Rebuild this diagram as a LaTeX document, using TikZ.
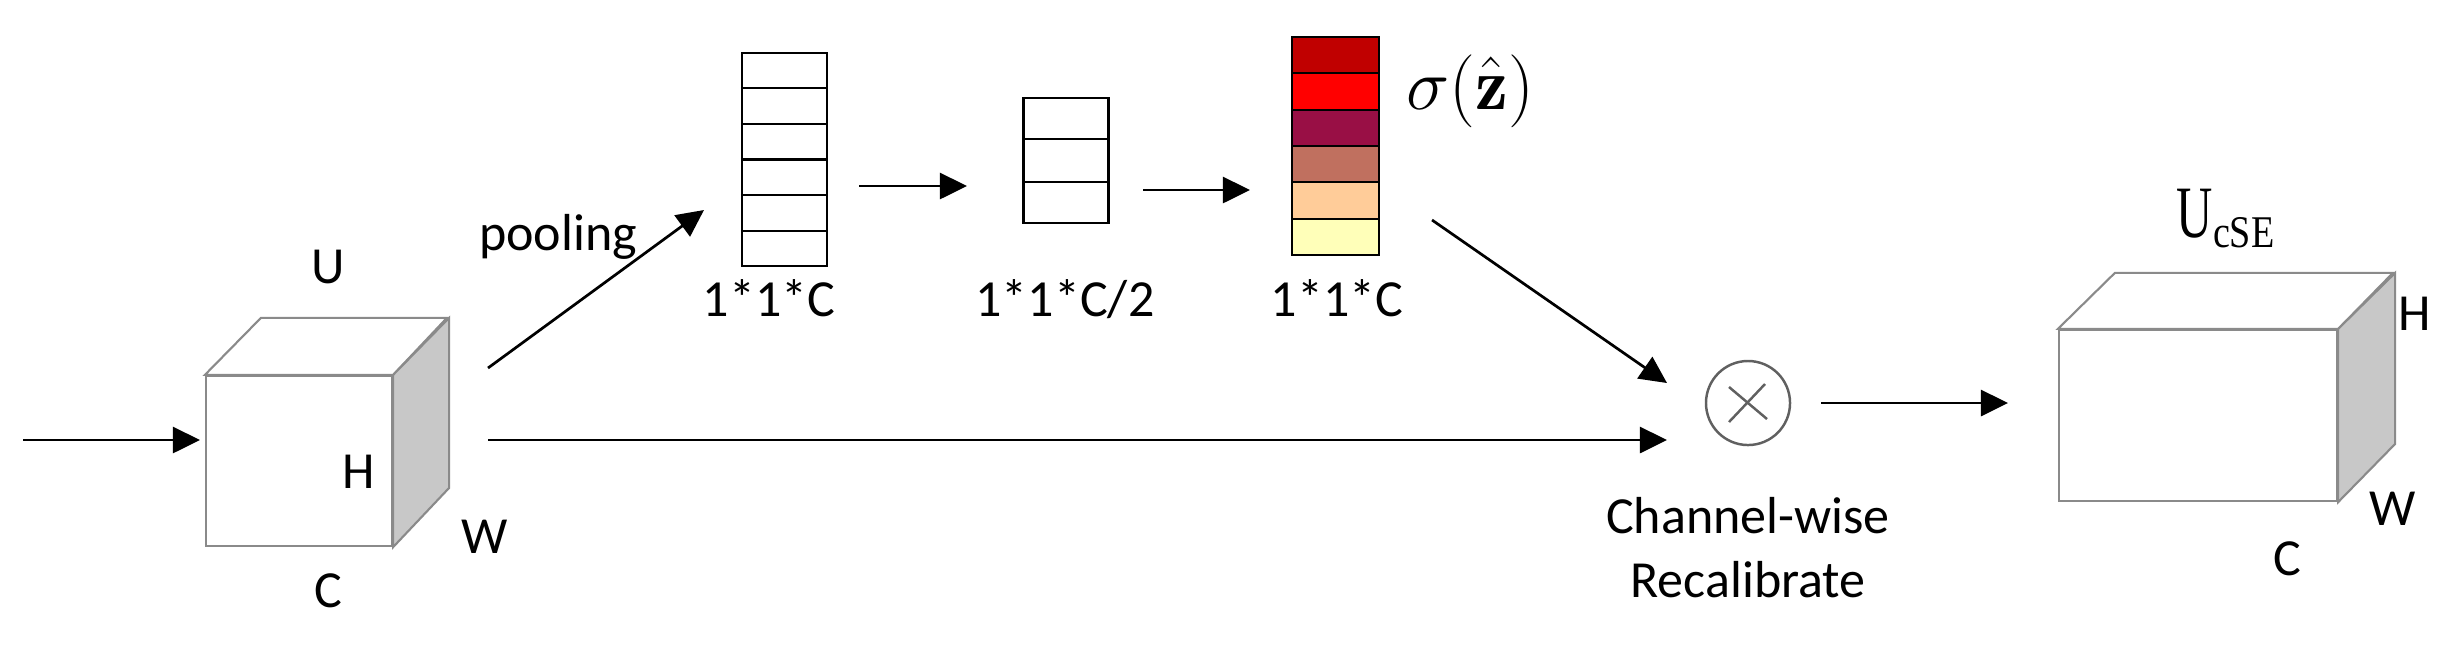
\documentclass[tikz,border=0pt]{standalone}
\usepackage{fontspec}
\setsansfont{Carlito}
\newfontfamily\timesfam{Liberation Serif}
\usetikzlibrary{arrows.meta,calc}
\definecolor{boxgray}{HTML}{8A8A8A}
\definecolor{sidegray}{HTML}{C8C8C8}
\definecolor{circgray}{HTML}{606060}
\definecolor{cA}{HTML}{C00000}
\definecolor{cB}{HTML}{FF0000}
\definecolor{cC}{HTML}{990F45}
\definecolor{cD}{HTML}{C0705F}
\definecolor{cE}{HTML}{FFCC99}
\definecolor{cF}{HTML}{FFFFB9}
\begin{document}
\begin{tikzpicture}[x=0.01cm,y=-0.01cm,
  conn/.style={line width=0.77pt,-{Triangle[length=7.7pt,width=7.4pt]}},
  face/.style={draw=boxgray,line width=0.6pt},
  lbl/.style={font=\sffamily\fontsize{14.8}{17}\selectfont,inner sep=0pt,anchor=base},
  stackbox/.style={draw=black,line width=0.6pt,minimum width=0.85cm,inner sep=0pt}
]
\useasboundingbox (0,0) rectangle (2464,656);

% input cube
\node[face,fill=white,minimum width=1.86cm,minimum height=1.70cm,inner sep=0pt] (cube) at (299,461) {};
\draw[face,fill=white] (cube.north west) -- ++(56,-57) -- ++(186,0) -- ($(cube.north east)$) -- cycle;
\draw[face,fill=sidegray] (cube.north east) -- ++(56,-57) -- ++(0,170) -- (cube.south east) -- cycle;
\node[lbl] (lU) at (328,283) {U};
\node[lbl] (lH) at (359,488) {H};
\node[lbl] (lW) at (485,553) {W};
\node[lbl] (lC) at (328,607) {C};

% stacks
\node[stackbox,minimum height=2.13cm] (tall) at (784.5,159.5) {};
\foreach \i in {1,...,5}
  \draw[line width=0.6pt] ($(tall.north west)!\i/6!(tall.south west)$) -- ($(tall.north east)!\i/6!(tall.south east)$);
\node[stackbox,minimum height=1.25cm] (mid) at (1066,160.5) {};
\foreach \i in {1,2}
  \draw[line width=0.6pt] ($(mid.north west)!\i/3!(mid.south west)$) -- ($(mid.north east)!\i/3!(mid.south east)$);
\node[stackbox,minimum height=2.16cm] (sig) at (1335.5,146) {};
\foreach \c [count=\i from 0] in {cA,cB,cC,cD,cE,cF}
  \draw[line width=0.6pt,fill=\c] ($(sig.north west)!\i/6!(sig.south west)$) rectangle ($(sig.north east)!\i/6+1/6!(sig.south east)$);

\node[lbl] (l1) at (769,316) {1*1*C};
\node[lbl] (l2) at (1065,316) {1*1*C/2};
\node[lbl] (l3) at (1337,316) {1*1*C};
\node[inner sep=0pt,font=\fontsize{21}{25}\selectfont] (sigma) at (1470,91) {$\sigma{\left(\hat{\mathbf{z}}\right)}$};
\node[lbl] (pool) at (558,250) {pooling};

% multiply
\node[circle,draw=circgray,line width=0.7pt,minimum size=0.84cm,inner sep=0pt] (mul) at (1748,403) {};
\draw[circgray,line width=0.7pt] (mul.center) ++(-19,-16) -- ++(38,32);
\draw[circgray,line width=0.7pt] (mul.center) ++(17,-19) -- ++(-36,38);
\node[lbl] (cw) at (1748,533) {Channel-wise};
\node[lbl] (rc) at (1748,597) {Recalibrate};

% output box
\node[face,fill=white,minimum width=2.78cm,minimum height=1.71cm,inner sep=0pt] (out) at (2198,415.5) {};
\draw[face,fill=white] (out.north west) -- ++(57,-56) -- ++(278,0) -- (out.north east) -- cycle;
\draw[face,fill=sidegray] (out.north east) -- ++(57,-56) -- ++(0,171) -- (out.south east) -- cycle;
\node[inner sep=0pt,anchor=base west,font=\timesfam] (ucse) at (2176,237) {\scalebox{0.68}[1]{\fontsize{21}{24}\selectfont U}\raisebox{-2.85pt}{\scalebox{0.84}[1]{\fontsize{12.9}{15}\selectfont cSE}}};
\node[lbl] (oH) at (2415,330) {H};
\node[lbl] (oW) at (2393,525) {W};
\node[lbl] (oC) at (2287,575) {C};

% connectors
\coordinate (inS) at (23,440);
\coordinate (inE) at (200,440);
\coordinate (poS) at (488,368);
\coordinate (poE) at (704,210);
\coordinate (lgS) at (488,440);
\coordinate (lgE) at (1667,440);
\coordinate (t2mS) at (859,186);
\coordinate (t2mE) at (967,186);
\coordinate (m2sS) at (1143,190);
\coordinate (m2sE) at (1250,190);
\coordinate (s2xS) at (1432,220);
\coordinate (s2xE) at (1667,383);
\coordinate (x2oS) at (1821,403);
\coordinate (x2oE) at (2008,403);
\draw[conn] (inS) -- (inE);
\draw[conn] (poS) -- (poE);
\draw[conn] (lgS) -- (lgE);
\draw[conn] (t2mS) -- (t2mE);
\draw[conn] (m2sS) -- (m2sE);
\draw[conn] (s2xS) -- (s2xE);
\draw[conn] (x2oS) -- (x2oE);
\end{tikzpicture}
\end{document}
